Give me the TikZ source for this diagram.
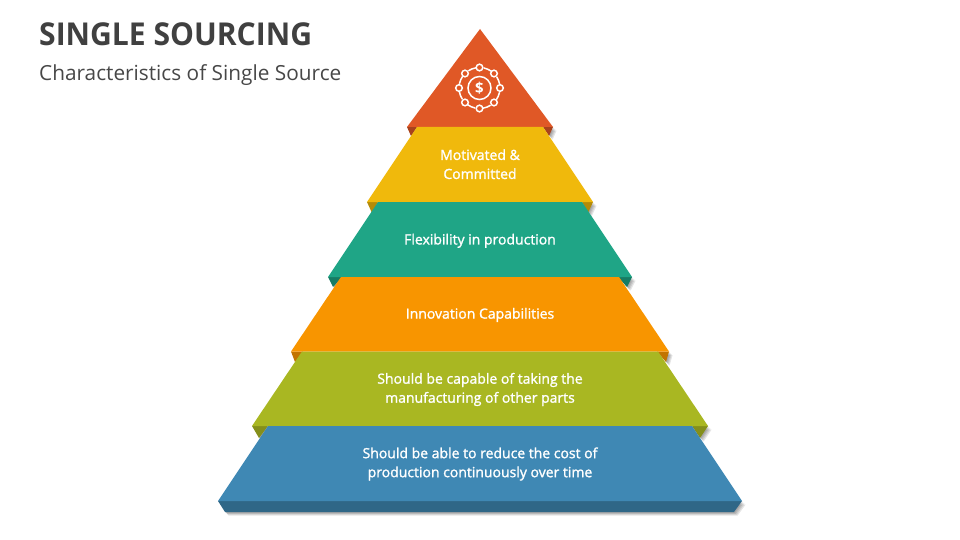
\documentclass[tikz,border=0pt]{standalone}
\usepackage{fontspec}
\setmainfont{Open Sans}
\newfontfamily\lblfont[FakeBold=1.4]{Open Sans}
\newfontfamily\ttlfont[FakeStretch=0.955]{Open Sans Bold}
\usetikzlibrary{calc}
\definecolor{cred}{HTML}{E05826}
\definecolor{cyel}{HTML}{F0B90C}
\definecolor{cteal}{HTML}{1FA586}
\definecolor{corg}{HTML}{F89500}
\definecolor{cgrn}{HTML}{A9B722}
\definecolor{cblu}{HTML}{3F88B4}
\definecolor{cbludk}{HTML}{2F6787}
\tikzset{
 x=1pt,y=-1pt,
 lbl/.style={text=white,align=center,font=\fontsize{14}{19}\selectfont\lblfont},
 shad/.style={fill=black,opacity=0.1,draw=none},
 ico/.style={draw=white,line width=1.5pt,fill=none},
}
\newcommand{\softshadow}[1]{%
 \foreach \d in {1,2,3,4}{\fill[shad,shift={(\d*0.9,\d*0.9)}] #1;}}
\begin{document}
\begin{tikzpicture}
\useasboundingbox (0,0) rectangle (960,540);
% flaps, bottom shadow
\softshadow{(407,127)--(417,127)--(411,136)--cycle}
\softshadow{(553,127)--(543,127)--(549,136)--cycle}
\softshadow{(367,202)--(378,202)--(372,213)--cycle}
\softshadow{(593,202)--(582,202)--(588,213)--cycle}
\softshadow{(328,277)--(342,277)--(333,287)--cycle}
\softshadow{(632,277)--(618,277)--(627,287)--cycle}
\softshadow{(291,351.5)--(303,351.5)--(295,362)--cycle}
\softshadow{(669,351.5)--(657,351.5)--(666,362)--cycle}
\softshadow{(252,426)--(268,426)--(259,438)--cycle}
\softshadow{(708,426)--(692,426)--(700,438)--cycle}
\softshadow{(218,501)--(742,501)--(734,512)--(225,512)--cycle}
\fill[cred!75!black] (407,127)--(417,127)--(411,136)--cycle (553,127)--(543,127)--(549,136)--cycle;
\fill[cyel!75!black] (367,202)--(378,202)--(372,213)--cycle (593,202)--(582,202)--(588,213)--cycle;
\fill[cteal!75!black] (328,277)--(342,277)--(333,287)--cycle (632,277)--(618,277)--(627,287)--cycle;
\fill[corg!78!black] (291,351.5)--(303,351.5)--(295,362)--cycle (669,351.5)--(657,351.5)--(666,362)--cycle;
\fill[cgrn!78!black] (252,426)--(268,426)--(259,438)--cycle (708,426)--(692,426)--(700,438)--cycle;
\fill[cbludk] (218,501)--(742,501)--(734,512)--(225,512)--cycle;
% tiers
\fill[cred] (480,29)--(553,127)--(407,127)--cycle;
\fill[cyel] (417,127)--(543,127)--(593,202)--(367,202)--cycle;
\fill[cteal] (378,202)--(582,202)--(632,277)--(328,277)--cycle;
\fill[corg] (341,277)--(619,277)--(669,351.5)--(291,351.5)--cycle;
\fill[cgrn] (302,351.5)--(658,351.5)--(708,426)--(252,426)--cycle;
\fill[cblu] (268,426)--(692,426)--(742,501)--(218,501)--cycle;
% icon
\begin{scope}[shift={(479.5,88)}]
 \draw[ico] (0,0) circle (11.5);
 \node[inner sep=0pt,text=white,font=\fontsize{15}{16}\selectfont\bfseries] (dollar) at (0,0) {\$};
 \foreach \a in {0,45,...,315}{
  \draw[ico] (\a:20.5) circle (3.3);
  \draw[ico] (\a+12:20.5) arc[start angle=\a+12,end angle=\a+35,radius=20.5];
 }
\end{scope}
% text
\node[anchor=west,inner sep=0pt,font=\fontsize{31.5}{36}\selectfont\ttlfont,text=black!75] (title) at (39,34.5) {SINGLE SOURCING};
\node[anchor=west,inner sep=0pt,font=\fontsize{20.8}{24}\selectfont,text=black!72] (sub) at (39,75) {Characteristics of Single Source};
\node[lbl] (t1) at (480,164.2) {Motivated \&\\Committed};
\node[lbl] (t2) at (480,240.8) {Flexibility in production};
\node[lbl] (t3) at (480,315) {Innovation Capabilities};
\node[lbl] (t4) at (480,389.5) {Should be capable of taking the\\manufacturing of other parts};
\node[lbl] (t5) at (480,464) {Should be able to reduce the cost of\\production continuously over time};
\end{tikzpicture}
\end{document}
